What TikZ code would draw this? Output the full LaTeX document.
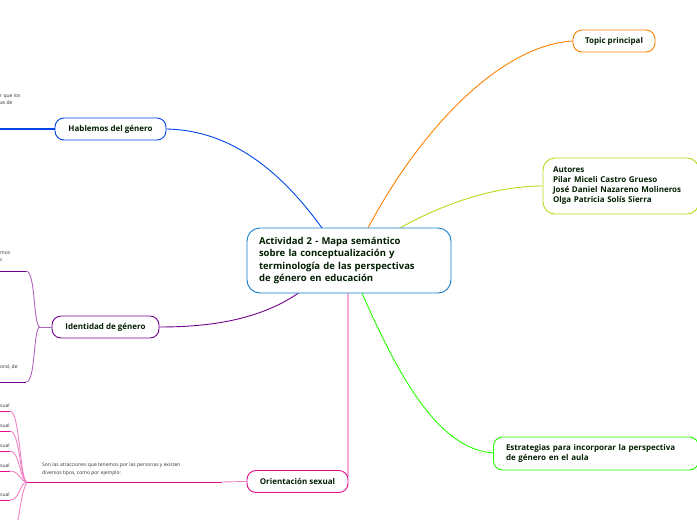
\documentclass[tikz,border=0pt]{standalone}
\usepackage{fontspec}
\setmainfont{Open Sans}
\begin{document}
\begin{tikzpicture}[x=1pt,y=-1pt,
 box/.style={draw,rounded corners=9pt,line width=0.9pt,fill=white,align=left,text=black!80!green!60!black,font=\bfseries\fontsize{8}{10}\selectfont,inner sep=0pt},
 small/.style={font=\fontsize{5}{7}\selectfont,anchor=north west,inner sep=0pt,align=left,text=black!80},
 ln/.style={line width=0.9pt}]
\useasboundingbox (0,0) rectangle (697,520);
\colorlet{cblue}{blue!70!cyan!90!black}
\colorlet{cpur}{violet!90!blue}
\colorlet{cmag}{magenta!90!violet}
% connectors
\draw[ln,cblue] (322,228) .. controls (280,170) and (230,130) .. (166,129);
\draw[ln,orange] (368,228) .. controls (420,130) and (500,45) .. (573,41);
\draw[ln,yellow!70!green] (400,228) .. controls (450,200) and (500,186) .. (543,186);
\draw[ln,green!80!lime] (362,293) .. controls (400,380) and (440,450) .. (494,453);
\draw[ln,cpur] (300,292) .. controls (260,320) and (210,327) .. (159,327);
\draw[ln,cmag] (348,293) -- (348,476) -- (340,481);
% central
\node[box,draw=cyan!60!blue,font=\bfseries\fontsize{9.5}{12.5}\selectfont,minimum width=204,minimum height=65,text width=180,rounded corners=13pt] (c) at (349,260.5) {Actividad 2 - Mapa semántico\\sobre la conceptualización y\\terminología de las perspectivas\\de género en educación};
\node[box,draw=orange,minimum width=82,minimum height=22,align=center] (t) at (614,41) {Topic principal};
\node[box,draw=yellow!70!green,minimum width=156,minimum height=56,text width=136,rounded corners=12pt] (a) at (621,186) {Autores\\Pilar Miceli Castro Grueso\\José Daniel Nazareno Molineros\\Olga Patricia Solís Sierra};
\node[box,draw=green!80!lime,minimum width=205,minimum height=33,text width=180] (e) at (596,453.5) {Estrategias para incorporar la perspectiva\\de género en el aula};
\node[box,draw=cmag,minimum width=101,minimum height=22,align=center] (o) at (297.5,481.5) {Orientación sexual};
\node[box,draw=cpur,minimum width=107,minimum height=22,align=center] (i) at (105.5,327) {Identidad de género};
\node[box,draw=cblue,minimum width=111,minimum height=22,align=center] (h) at (110.5,129) {Hablemos del género};
% Hablemos detail
\draw[line width=1.2pt,cblue] (h.west) -- (0,129);
\node[small] (ht) at (0,93) {r que los\\as de};
% Identidad detail
\draw[ln,cpur!60] (i.west) -- (40,327);
\draw[ln,cpur!60] (40,327) .. controls (33,327) and (36,271) .. (26,271);
\draw[ln,cpur!60] (40,327) .. controls (33,327) and (36,382) .. (26,382);
\draw[ln,cpur] (26,271) -- (0,271);
\draw[ln,cpur] (26,382) -- (0,382);
\node[small] (it1) at (0,252) {mos\\c};
\node[small] (it2) at (0,364) {oral, de};
% Orientacion detail
\draw[ln,cmag!50] (o.west) -- (222,482);
\draw[ln,cmag] (222,482) -- (27,482);
\node[small,font=\fontsize{5}{8}\selectfont] (ot) at (42,462) {Son las atracciones que tenemos por las personas y existen\\diversos tipos, como por ejemplo:};
\foreach \yy in {411,431,451,471,500}{
 \draw[ln,cmag!50] (27,482) .. controls (20,482) and (20,\yy) .. (10,\yy);
 \draw[ln,cmag] (10,\yy) -- (0,\yy);
 \node[small] at (0,\yy-8) {sual};
}
\draw[ln,cmag!50] (27,482) .. controls (22,490) and (20,510) .. (18,520);
\end{tikzpicture}
\end{document}
